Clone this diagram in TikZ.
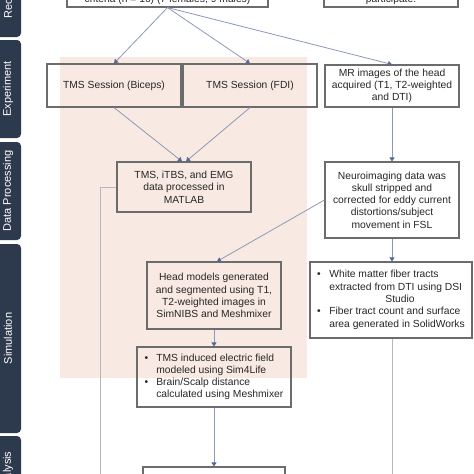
\documentclass[tikz,border=0pt]{standalone}
\usepackage{fontspec}
\setmainfont{Liberation Sans}
\usetikzlibrary{arrows.meta}

\definecolor{tabnavy}{RGB}{45,57,77}
\definecolor{peach}{RGB}{248,234,226}
\definecolor{boxgray}{RGB}{108,108,108}
\definecolor{txtgray}{RGB}{38,38,38}
\definecolor{linkblue}{RGB}{140,152,185}
\definecolor{tipblue}{RGB}{85,105,150}
\definecolor{railgray}{RGB}{180,182,192}

\begin{document}
\begin{tikzpicture}[x=1pt,y=-1pt,
	stage/.style={draw=boxgray, line width=1.1pt, text=txtgray, align=center, inner sep=0pt, font=\fontsize{10.3}{12.3}\selectfont},
	phase/.style={fill=tabnavy, text=white, rounded corners=4pt, rotate=90, minimum height=26, inner sep=0pt, font=\fontsize{11}{13}\selectfont},
	link/.style={draw=linkblue, line width=0.8pt, -{Triangle[width=5pt,length=4pt,color=tipblue]}},
	rail/.style={draw=railgray, line width=0.9pt}]
			\useasboundingbox (0,0) rectangle (474,474);
			\clip (0,0) rectangle (474,474);
			
			% shaded TMS part
			\fill[peach] (60,57) rectangle (307,378);
			
			% stage tabs
			\node[phase, minimum width=97] (recruit) at (8,-11.5) {Recruitment};
			\node[phase, minimum width=98] (experiment) at (8,89) {Experiment};
			\node[phase, minimum width=98] (dataproc) at (8,191) {Data Processing};
			\node[phase, minimum width=189] (simulation) at (8,338.5) {Simulation};
			\node[phase, minimum width=72] (analysisphase) at (8,472) {Analysis};
			
			\node[stage, minimum width=201, minimum height=14] (screen) at (167.5,0) {criteria (n = 16) (7 females, 9 males)};
			\node[stage, minimum width=134, minimum height=14] (consent) at (391,0) {participate.};
			
			\node[stage, minimum width=134, minimum height=43] (biceps) at (114,85.5) {TMS Session (Biceps)};
			\node[stage, minimum width=134, minimum height=43] (fdi) at (250,85.5) {TMS Session (FDI)};
			\node[stage, minimum width=134, minimum height=42] (mri) at (392,86) {MR images of the head\\acquired (T1, T2-weighted\\and DTI)};
			
			\node[stage, minimum width=134, minimum height=50] (process) at (184,187) {TMS, iTBS, and EMG\\data processed in\\MATLAB};
			\node[stage, minimum width=134, minimum height=76] (neuro) at (392,200) {Neuroimaging data was\\skull stripped and\\corrected for eddy current\\distortions/subject\\movement in FSL};
			
			\node[stage, minimum width=134, minimum height=67] (headmod) at (214,295.5) {Head models generated\\and segmented using T1,\\T2-weighted images in\\SimNIBS and Meshmixer};
			\node[stage, minimum width=162, minimum height=76] (fiber) at (391,300) {\begin{tabular}{@{}l@{\hspace{8.5pt}}l@{}}
				\textbullet & White matter fiber tracts\\
				& extracted from DTI using DSI\\
				& \multicolumn{1}{c@{}}{Studio}\\
				\textbullet & Fiber tract count and surface\\
				& area generated in SolidWorks
			\end{tabular}};
			
			\node[stage, minimum width=154, minimum height=60] (efield) at (214,377) {\begin{tabular}{@{}l@{\hspace{8pt}}l@{}}
				\textbullet & TMS induced electric field\\
				& modeled using Sim4Life\\
				\textbullet & Brain/Scalp distance\\
				& calculated using Meshmixer
			\end{tabular}};
			
			\node[stage, minimum width=142, minimum height=46] (analysis) at (214,490) {};
			
			\coordinate (leftend) at (100,500);
			\coordinate (rightend) at (392,500);
			
			\draw[link] (screen.south) to (biceps.north);
			\draw[link] (screen.south) to (fdi.north);
			\draw[link] (screen.south) to (mri.north);
			\draw[link] (biceps.south) to ([xshift=-2]process.north);
			\draw[link] (fdi.south) to ([xshift=2]process.north);
			\draw[link] (mri.south) to (neuro.north);
			\draw[link] (neuro.south) to (neuro.south |- fiber.north);
			\draw[link] (neuro.west) to ([xshift=3]headmod.north);
			\draw[link] (headmod.south) to (efield.north);
			\draw[link] (efield.south) to (analysis.north);
			
			\draw[rail] (process.west) -| (leftend);
			\draw[rail] (fiber.south -| rightend) to (rightend);
\end{tikzpicture}
\end{document}
